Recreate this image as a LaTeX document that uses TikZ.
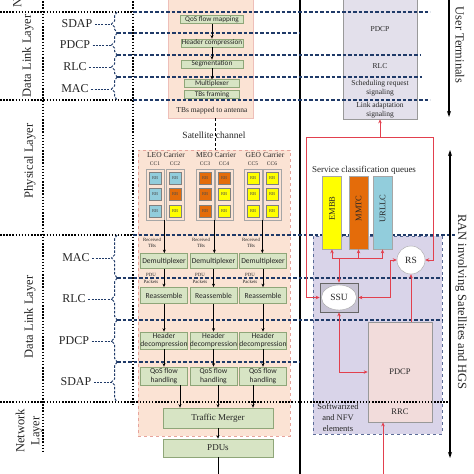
\documentclass[tikz,border=0pt]{standalone}
\usepackage{fontspec}
\setmainfont{Liberation Serif}
\newfontfamily\calib{Carlito}
\usetikzlibrary{arrows.meta,shapes.geometric}
\definecolor{navyc}{HTML}{1F3A68}
\definecolor{peach}{HTML}{FBE3D4}
\definecolor{peachb}{HTML}{E7A39B}
\definecolor{gfill}{HTML}{D7E4C4}
\definecolor{gbord}{HTML}{8FA679}
\definecolor{lblue}{HTML}{92CDDC}
\definecolor{orng}{HTML}{E46C0A}
\definecolor{ylw}{HTML}{FFFF00}
\definecolor{grayfill}{HTML}{E3E0EB}
\definecolor{purp}{HTML}{D9D4E9}
\definecolor{purpb}{HTML}{5A6C98}
\definecolor{pinkf}{HTML}{F2DCDB}
\definecolor{redc}{HTML}{E2404E}
\definecolor{txt}{HTML}{262626}
\newcommand{\myfs}[2]{\fontsize{#1}{#2}\selectfont}
\begin{document}
\begin{tikzpicture}[x=1pt,y=-1pt,text=txt,
  navyline/.style={navyc, line width=1.2pt, dash pattern=on 3.5pt off 2pt},
  dotline/.style={black, line width=1.5pt, dash pattern=on 1.5pt off 1.6pt},
  gb/.style={draw=gbord, fill=gfill, line width=0.7pt, inner sep=0pt, align=center, font=\calib\myfs{7.2}{8}},
  gbl/.style={gb, minimum width=47pt, font=\calib\myfs{7.6}{8.6}},
  ccbox/.style={draw=gray!70, line width=0.7pt, minimum width=18pt, minimum height=51pt, inner sep=0pt},
  rbox/.style={draw=gray, line width=0.5pt, minimum size=12pt, inner sep=0pt, font=\myfs{4.5}{5}, text=black!70},
  arr/.style={-{Stealth[length=3.5pt,width=3pt]}, line width=0.7pt},
  rl/.style={redc, line width=0.9pt},
  ra/.style={rl, -{Stealth[length=4pt,width=3.5pt]}},
  rab/.style={rl, {Stealth[length=4pt,width=3.5pt]}-{Stealth[length=4pt,width=3.5pt]}},
  lbl/.style={font=\myfs{12}{14}, inner sep=0pt},
  rot/.style={font=\myfs{12.5}{15}, rotate=90, inner sep=0pt, align=center},
  queue/.style={draw=gray!70, line width=0.7pt, minimum width=19pt, minimum height=73pt, inner sep=0pt}
]
\useasboundingbox (0,0) rectangle (474,474);
\clip (0,0) rectangle (474,474);
\fill[white] (0,0) rectangle (474,474);

% background boxes
\node[draw=peachb!70, fill=peach, line width=0.6pt, minimum width=85pt, minimum height=123pt, inner sep=0pt] (topbox) at (210.5,56.5) {};
\node[draw=peachb, dashed, fill=peach, line width=0.8pt, minimum width=152pt, minimum height=286pt, inner sep=0pt] (botbox) at (214,293) {};
\node[draw=gray!80, fill=grayfill, line width=0.7pt, minimum width=74pt, minimum height=124pt, inner sep=0pt] (ut) at (380,57) {};
\node[draw=purpb, dashed, fill=purp, line width=1pt, minimum width=129pt, minimum height=198pt, inner sep=0pt] (nfv) at (377.5,335) {};
\node[draw=gray!80, fill=pinkf, line width=0.7pt, minimum width=64pt, minimum height=100pt, inner sep=0pt, font=\myfs{8.5}{10}] (pd) at (400,372) {PDCP};

% main vertical line
\coordinate (vt) at (300,-5); \coordinate (vb) at (300,480);
\draw[line width=1.3pt] (vt) -- (vb);

% dotted verticals
\draw[dotline] (43,-5) -- (43,453);
\draw[dotline] (133,-5) -- (133,405);

% horizontal layer lines
\draw[dotline] (0,12) -- (133,12); \draw[navyline] (133,12) -- (430,12);
\draw[navyline] (117,33) -- (300,33);
\draw[navyline] (117,55) -- (420,55);
\draw[navyline] (117,77) -- (422,77);
\draw[dotline] (0,100) -- (133,100); \draw[navyline] (133,100) -- (430,100);
\draw[dotline] (0,235) -- (133,235); \draw[navyline] (133,235) -- (455,235);
\draw[navyline] (117,278) -- (443,278);
\draw[navyline] (117,320) -- (443,320);
\draw[navyline] (117,362) -- (300,362);
\draw[dotline] (0,402) -- (450,402);

% braces
\foreach \a/\t/\b in {12/24/33, 33/45/55, 55/67/77, 77/89/100, 235/258/278, 278/299/320, 320/341/362, 362/382/402}
  \draw[navyc, line width=1pt, dash pattern=on 2.5pt off 1.5pt] (117,\a) -- (114.5,\a+4) -- (114.5,\t-3) -- (111.5,\t) -- (114.5,\t+3) -- (114.5,\b-4) -- (117,\b);

% protocol labels
\foreach \n/\y/\x in {SDAP/24/77, PDCP/45/75, RLC/67/75, MAC/89/75, MAC/258/76, RLC/299/74, PDCP/341/74, SDAP/382/76} {
  \node[lbl] (L\y) at (\x,\y) {\n};
  \coordinate (T\y) at (111.5,\y);
  \draw[navyc, line width=1pt, dash pattern=on 2pt off 1.2pt] ([xshift=2.5pt]L\y.east) -- (T\y);
}

% layer names
\node[rot] (nettop) at (26,-14) {Network\\Layer};
\node[rot] (dll1) at (28,56) {Data Link Layer};
\node[rot] (phy) at (30,161) {Physical Layer};
\node[rot] (dll2) at (30,317) {Data Link Layer};
\node[rot] (net) at (29,431) {Network\\Layer};

% top transmitter chain
\node[gb, minimum width=63pt, minimum height=8pt] (qm) at (212,19.5) {QoS flow mapping};
\node[gb, minimum width=62pt, minimum height=8pt] (hc) at (212,43) {Header compression};
\node[gb, minimum width=62pt, minimum height=8pt] (sg) at (212,64) {Segmentation};
\node[gb, minimum width=55pt, minimum height=7.5pt] (mx) at (212,83.5) {Multiplexer};
\node[gb, minimum width=55pt, minimum height=7.5pt] (tf) at (212,94.5) {TBs framing};
\draw[arr] (qm) -- (hc);
\draw[arr] (hc) -- (sg);
\draw[arr] (sg) -- (mx);
\node[font=\myfs{7.5}{9}] (tbm) at (212,111) {TBs mapped to antenna};
\coordinate (s1) at (215,118);
\draw[densely dashed, line width=0.6pt] (s1) -- (s1 |- botbox.north);
\node[font=\myfs{9.5}{11}, inner sep=1pt] (sat) at (214,135) {Satellite channel};

% carriers
\node[font=\myfs{7.5}{9}] (leo) at (166,155) {LEO Carrier};
\node[font=\myfs{7.5}{9}] (meo) at (216,155) {MEO Carrier};
\node[font=\myfs{7.5}{9}] (geo) at (265,155) {GEO Carrier};
\foreach \i/\x/\ca/\cb/\cc in {1/155/lblue/lblue/lblue, 2/175/lblue/orng/ylw, 3/205/orng/orng/orng, 4/224/orng/ylw/ylw, 5/253/ylw/ylw/ylw, 6/272/ylw/ylw/ylw} {
  \node[font=\myfs{5.5}{6}, inner sep=0pt] (cl\i) at (\x,164) {CC\i};
  \node[ccbox] (cc\i) at (\x,194.5) {};
  \node[rbox, fill=\ca] (rb\i a) at (\x,178) {RB};
  \node[rbox, fill=\cb] (rb\i b) at (\x,194.5) {RB};
  \node[rbox, fill=\cc] (rb\i c) at (\x,211) {RB};
}

% receiver chains
\foreach \i/\x in {1/164,2/213.5,3/263} {
  \node[gbl, minimum height=15pt] (dm\i) at (\x,261) {Demultiplexer};
  \node[gbl, minimum height=16pt] (re\i) at (\x,295.5) {Reassemble};
  \node[gbl, minimum height=17pt] (hd\i) at (\x,340.5) {Header\\decompression};
  \node[gbl, minimum height=18pt] (qf\i) at (\x,376) {QoS flow\\handling};
  \draw[arr] (dm\i) -- (re\i);
  \draw[arr] (re\i) -- (hd\i);
  \draw[arr] (hd\i) -- (qf\i);
}
\draw[arr] (cc1.south east) -- (cc1.south east |- dm1.north);
\draw[arr] (cc3.south east) -- (cc3.south east |- dm2.north);
\draw[arr] (cc5.south east) -- (cc5.south east |- dm3.north);
\foreach \i/\x in {1/152,2/201,3/251} {
  \node[font=\myfs{4.8}{6}, align=center, inner sep=0pt] (rt\i) at (\x,242.5) {Received\\TBs};
  \node[font=\myfs{4.8}{7}, align=center, inner sep=0pt] (pp\i) at (\x-1,278) {PDU\\Packets};
}
\node[gb, font=\myfs{9}{10}, minimum width=110pt, minimum height=20pt] (tm) at (218,418) {Traffic Merger};
\node[gb, font=\myfs{9}{10}, minimum width=110pt, minimum height=18pt] (pdus) at (218,448) {PDUs};
\draw[arr] ([xshift=16pt]qf1.south) -- ([xshift=16pt]qf1.south |- tm.north);
\draw[arr] ([xshift=4.5pt]qf2.south) -- ([xshift=4.5pt]qf2.south |- tm.north);
\draw[arr] ([xshift=-10pt]qf3.south) -- ([xshift=-10pt]qf3.south |- tm.north);
\draw[arr] (tm) -- (pdus);
\coordinate (pb) at (218,480);
\draw[line width=0.7pt] (pdus) -- (pb);

% user terminal box texts
\node[font=\myfs{7.5}{9}] (utp) at (380,29) {PDCP};
\node[font=\myfs{7.5}{9}] (utr) at (380,66) {RLC};
\node[font=\myfs{7.5}{9}, align=center] (uts) at (380,88) {Scheduling request\\signaling};
\node[font=\myfs{7.5}{9}, align=center] (utl) at (380,110.5) {Link adaptation\\signaling};

% side arrows
\coordinate (ua) at (449,-5); \coordinate (ub) at (449,117);
\draw[line width=1.1pt, -{Stealth[length=6pt,width=4pt]}] (ua) -- (ub);
\node[font=\myfs{12.5}{15}, rotate=-90] (utt) at (460,45) {User Terminals};
\coordinate (ra1) at (450,150); \coordinate (ra2) at (450,458);
\draw[line width=1.1pt, {Stealth[length=6pt,width=4pt]}-{Stealth[length=6pt,width=4pt]}] (ra1) -- (ra2);
\node[font=\myfs{12.5}{15}, rotate=-90] (rant) at (461,302) {RAN involving Satellites and HGS};

% queues
\node[font=\myfs{9}{11}] (sct) at (364,170) {Service classification queues};
\node[queue, fill=ylw] (q1) at (332,212.5) {};
\node[queue, fill=orng] (q2) at (358.5,212.5) {};
\node[queue, fill=lblue] (q3) at (382.5,212.5) {};
\node[rotate=90, font=\myfs{8.5}{10}] (q1t) at ([yshift=4pt]q1.center) {EMBB};
\node[rotate=90, font=\myfs{8.5}{10}] (q2t) at ([yshift=4pt]q2.center) {MMTC};
\node[rotate=90, font=\myfs{8.5}{10}] (q3t) at ([yshift=4pt]q3.center) {URLLC};

% SSU and RS
\node[draw=gray!80!black, fill=purp!80!gray, line width=0.7pt, minimum width=38pt, minimum height=29pt, inner sep=0pt] (ssub) at (339,297.5) {};
\node[ellipse, draw=gray!70, fill=white, minimum width=35pt, minimum height=25pt, inner sep=0pt, font=\myfs{9.5}{11}] (ssu) at (339,297.5) {SSU};
\node[circle, draw=gray!70, fill=white, minimum size=28pt, inner sep=0pt, font=\myfs{9.5}{11}] (rs) at (411,260) {RS};
\node[font=\myfs{8.5}{10}] (rrc) at (400,412) {RRC};
\node[font=\myfs{8.5}{11}, align=center] (sw) at (338,418) {Softwarized\\and NFV\\elements};

% red connectors
\coordinate (rtl) at (306,137); \coordinate (rtr) at (433,137); \coordinate (rtm) at (380,137);
\draw[rl] (rtl) -- (rtr);
\draw[ra] (rtl) |- (ssub.west);
\draw[ra] (rtr) |- (rs.east);
\draw[ra] (rtm) -- (ut.south);
\coordinate (j) at (339,258);
\draw[rl] (q1.south |- j) -- (q3.south |- j);
\draw[ra] (q1.south |- j) -- (q1.south);
\draw[ra] (q2.south |- j) -- (q2.south);
\draw[ra] (q3.south |- j) -- (q3.south);
\draw[ra] (j) -- (ssub.north);
\coordinate (k) at (390,260);
\draw[rab] (rs.west) -- (k) |- (ssub.east);
\draw[rl, {Stealth[length=4pt,width=3.5pt]}-] (rs.south) -- (rs.south |- pd.north);
\draw[rab] (ssub.south) |- (pd.west);
\coordinate (rrb) at (383,480);
\draw[ra] (rrb) -- (rrb |- pd.south);
\end{tikzpicture}
\end{document}
